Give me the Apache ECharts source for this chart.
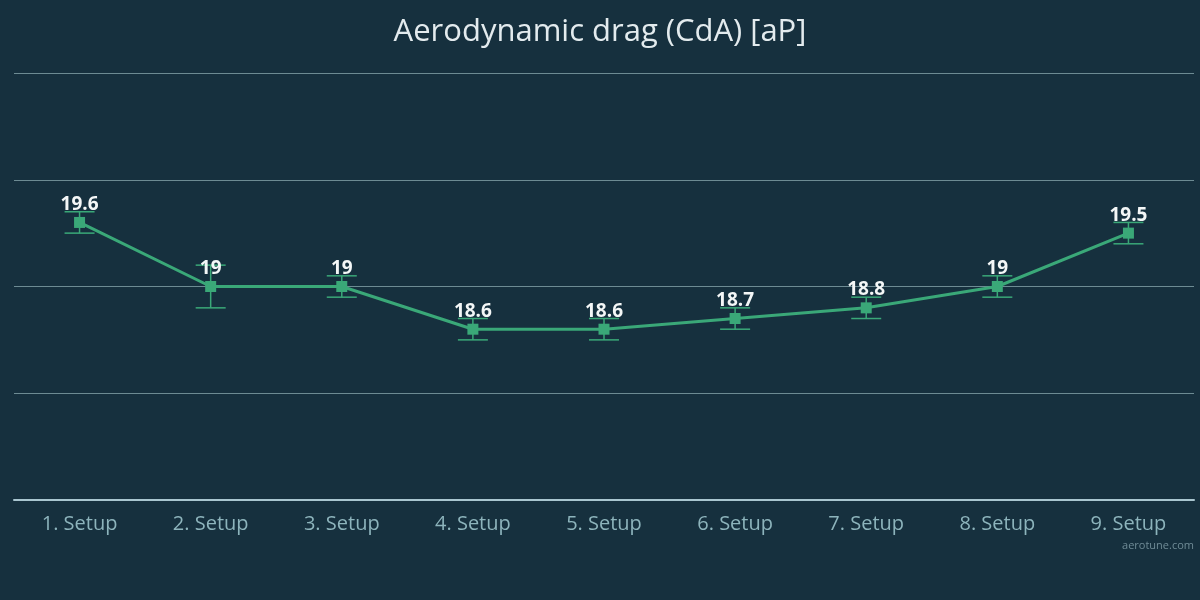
<!DOCTYPE html>
<html>
<head>
<meta charset="utf-8">
<title>Aerodynamic drag (CdA)</title>
<script src="https://cdn.jsdelivr.net/npm/echarts@6/dist/echarts.min.js"></script>
<style>
  html, body { margin: 0; padding: 0; background: #16303e; }
  #chart { width: 1200px; height: 600px; }
</style>
</head>
<body>
<div id="chart"></div>
<script>
// Setups along the x axis
const setups = ["1. Setup", "2. Setup", "3. Setup", "4. Setup", "5. Setup",
  "6. Setup", "7. Setup", "8. Setup", "9. Setup"];

// CdA values
const cdaValues = [19.6, 19, 19, 18.6, 18.6, 18.7, 18.8, 19, 19.5];

// Error bar ends (low / high)
const errLow = [19.5, 18.8, 18.9, 18.5, 18.5, 18.6, 18.7, 18.9, 19.4];
const errHigh = [19.7, 19.2, 19.1, 18.7, 18.7, 18.8, 18.9, 19.1, 19.6];

const green = "#3aa878";

const chart = echarts.init(document.getElementById("chart"));

const option = {
  backgroundColor: "#16303e",
  animation: false,
  title: {
    text: "Aerodynamic drag (CdA) [aP]",
    left: "center",
    top: 12,
    textStyle: {
      color: "#e3ebee",
      fontFamily: "Open Sans",
      fontWeight: 400,
      fontSize: 31,
    },
  },
  graphic: [
    {
      type: "text",
      right: 6,
      top: 540,
      style: {
        text: "aerotune.com",
        fill: "#6f8b96",
        font: "11px 'Open Sans'",
      },
    },
  ],
  grid: {
    left: 14,
    right: 6,
    top: 73,
    bottom: 100,
  },
  xAxis: {
    type: "category",
    data: setups,
    boundaryGap: true,
    axisLine: { lineStyle: { color: "#a9c6d0", width: 2 } },
    axisTick: { show: false },
    axisLabel: {
      color: "#8db4bc",
      fontFamily: "Open Sans",
      fontSize: 20,
      margin: 14,
    },
  },
  yAxis: {
    type: "value",
    min: 17,
    max: 21,
    interval: 1,
    axisLabel: { show: false },
    axisLine: { show: false },
    axisTick: { show: false },
    splitLine: { lineStyle: { color: "#6d8b93", width: 1 } },
  },
  series: [
    {
      type: "custom",
      z: 1,
      data: setups.map((s, i) => [i, errLow[i], errHigh[i]]),
      renderItem: (params, api) => {
        const lo = api.coord([api.value(0), api.value(1)]);
        const hi = api.coord([api.value(0), api.value(2)]);
        const hw = 15;
        const st = { stroke: green, lineWidth: 1.5 };
        return {
          type: "group",
          children: [
            { type: "line", shape: { x1: lo[0], y1: lo[1], x2: hi[0], y2: hi[1] }, style: st },
            { type: "line", shape: { x1: lo[0] - hw, y1: lo[1], x2: lo[0] + hw, y2: lo[1] }, style: st },
            { type: "line", shape: { x1: hi[0] - hw, y1: hi[1], x2: hi[0] + hw, y2: hi[1] }, style: st },
          ],
        };
      },
    },
    {
      type: "line",
      z: 2,
      data: cdaValues,
      symbol: "rect",
      symbolSize: 11,
      itemStyle: { color: green },
      lineStyle: { color: green, width: 3 },
      label: {
        show: true,
        position: "top",
        distance: 3,
        color: "#f4f7f7",
        fontFamily: "Open Sans",
        fontWeight: "bold",
        fontSize: 19,
      },
    },
  ],
};

chart.setOption(option);
</script>
</body>
</html>
